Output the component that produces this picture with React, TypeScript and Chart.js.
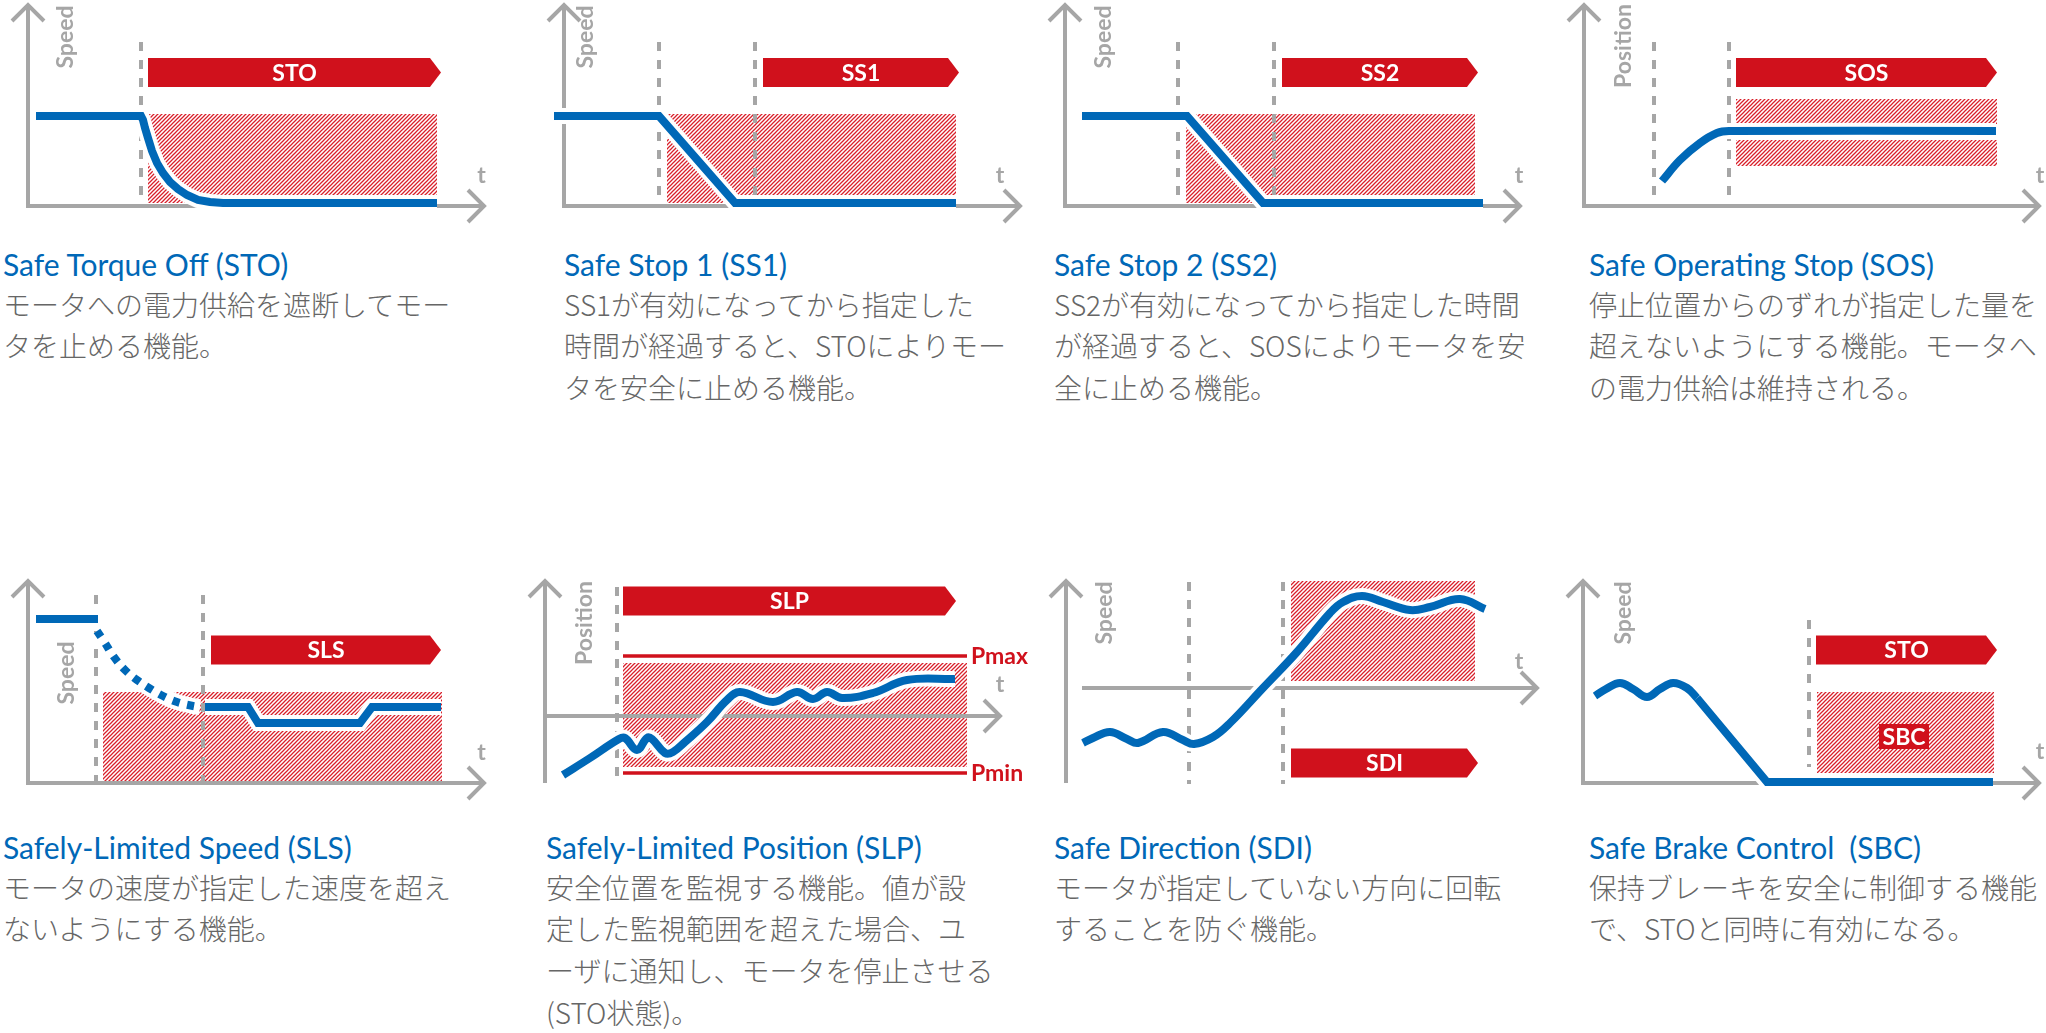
import { useEffect, useRef } from "react";
import { Chart, registerables } from "chart.js";

Chart.register(...registerables);

type Pt = [number, number];
type Band = [number, number, number, number]; // t from, t to, value from, value to

// ---------- Safe Torque Off (STO): the motor coasts down once torque is cut ----------
const stoSpeed: Pt[] = [
  [0.8, 9.0], [11.3, 9.0], [11.5, 8.6], [11.7, 7.8], [12.0, 6.8], [12.4, 5.5],
  [12.9, 4.3], [13.5, 3.3], [14.2, 2.4], [15.0, 1.7], [15.9, 1.1], [17.0, 0.6],
  [18.2, 0.4], [19.5, 0.3], [40.9, 0.3],
];
const stoMarkers = [11.3];
const stoZone: Band[] = [[12.0, 40.9, 0.3, 9.2]];

// ---------- Safe Stop 1 (SS1) ----------
const ss1Speed: Pt[] = [[-1.0, 9.0], [9.5, 9.0], [17.1, 0.3], [39.2, 0.3]];
const ss1Markers = [9.5, 19.1];
const ss1Zone: Band[] = [[10.3, 39.2, 0.3, 9.2]];

// ---------- Safe Stop 2 (SS2) ----------
const ss2Speed: Pt[] = [[1.7, 9.0], [12.2, 9.0], [19.8, 0.3], [41.8, 0.3]];
const ss2Markers = [11.3, 20.9];
const ss2Zone: Band[] = [[12.1, 41.0, 0.3, 9.2]];

// ---------- Safe Operating Stop (SOS) ----------
const sosPosition: Pt[] = [[7.8, 2.5], [9.6, 4.6], [11.6, 6.3], [13.3, 7.3], [14.5, 7.5], [41.2, 7.5]];
const sosMarkers = [7.0, 14.5];
const sosZone: Band[] = [[15.2, 41.3, 8.2, 10.7], [15.2, 41.3, 4.0, 6.6]];

// ---------- Safely-Limited Speed (SLS) ----------
const slsRun: Pt[] = [[0.8, 16.4], [7.0, 16.4]];
const slsDecel: Pt[] = [
  [6.9, 15.2], [7.7, 14.0], [8.6, 12.6], [9.7, 11.3], [10.9, 10.3], [12.1, 9.5],
  [13.5, 8.7], [14.9, 8.1], [16.5, 7.7], [17.2, 7.6],
];
const slsLimited: Pt[] = [[17.7, 7.6], [22.0, 7.6], [23.0, 6.0], [33.2, 6.0], [34.4, 7.6], [41.3, 7.6]];
const slsMarkers = [6.8, 17.5];
const slsZone: Band[] = [[7.5, 41.4, 0.2, 9.1]];

// ---------- Safely-Limited Position (SLP) ----------
const slpPosition: Pt[] = [
  [1.8, -5.9], [4.5, -4.2], [7.4, -2.3], [8.0, -2.2], [9.2, -3.4], [10.2, -2.2],
  [10.7, -2.3], [12.0, -3.7], [12.8, -3.6], [14.0, -2.6], [16.2, -0.6], [18.2, 1.6],
  [19.5, 2.4], [22.8, 1.4], [25.2, 2.4], [26.8, 1.7], [28.2, 2.4], [29.7, 1.8],
  [32.8, 2.3], [36.2, 3.6], [41.0, 3.7],
];
const slpMarkers = [7.2];
const slpZone: Band[] = [[7.8, 42.2, -5.1, 5.3]];
const slpLimitNames = ["Pmax", "Pmin"];
const slpLimitValues = [6.0, -5.7];
const slpLimitSpan: [number, number] = [7.8, 42.2];

// ---------- Safe Direction (SDI) ----------
const sdiSpeed: Pt[] = [
  [1.7, -5.5], [2.7, -5.0], [4.4, -4.4], [6.1, -5.1], [7.2, -5.5], [9.7, -4.4],
  [11.7, -5.2], [12.8, -5.6], [14.7, -4.9], [16.4, -3.5], [19.7, 0.0], [23.1, 3.6],
  [26.4, 7.5], [27.7, 8.6], [29.6, 9.2], [31.7, 8.6], [34.4, 7.8], [36.4, 8.1],
  [39.4, 8.9], [41.9, 7.9],
];
const sdiMarkers = [12.3, 21.7];
const sdiZone: Band[] = [[22.5, 40.9, 0.7, 10.7]];

// ---------- Safe Brake Control (SBC) ----------
const sbcWave: Pt[] = [
  [1.2, 8.7], [2.3, 9.4], [3.7, 10.0], [5.0, 9.4], [6.4, 8.6], [7.7, 9.4],
  [9.0, 10.0], [10.4, 9.5], [11.4, 8.5],
];
const sbcStop: Pt[] = [[11.4, 8.5], [18.4, 0.1], [41.0, 0.1]];
const sbcMarkers = [22.6];
const sbcZone: Band[] = [[23.4, 41.1, 1.0, 9.1]];
const sbcTagLabel = "SBC";
const sbcTagSpan: Band = [29.6, 34.6, 3.4, 5.9];

// ---------- Function banners (one per diagram) ----------
const bannerLabels = ["STO", "SS1", "SS2", "SOS", "SLS", "SLP", "SDI", "STO"];
const bannerFrom = [12.0, 19.9, 21.7, 15.2, 18.3, 7.8, 22.5, 23.3];
const bannerTo = [41.3, 39.5, 41.3, 41.3, 41.3, 41.1, 41.2, 41.4];
const bannerLevel = [13.35, 13.35, 13.35, 13.35, 13.3, 11.5, -7.5, 13.3];

const axisNames = ["Speed", "Speed", "Speed", "Position", "Speed", "Position", "Speed", "Speed"];

const captionTitles = [
  "Safe Torque Off (STO)",
  "Safe Stop 1 (SS1)",
  "Safe Stop 2 (SS2)",
  "Safe Operating Stop (SOS)",
  "Safely-Limited Speed (SLS)",
  "Safely-Limited Position (SLP)",
  "Safe Direction (SDI)",
  "Safe Brake Control\u2002(SBC)",
];
const captionBodies = [
  ["モータへの電力供給を遮断してモー", "タを止める機能。"],
  ["SS1が有効になってから指定した", "時間が経過すると、STOによりモー", "タを安全に止める機能。"],
  ["SS2が有効になってから指定した時間", "が経過すると、SOSによりモータを安", "全に止める機能。"],
  ["停止位置からのずれが指定した量を", "超えないようにする機能。モータへ", "の電力供給は維持される。"],
  ["モータの速度が指定した速度を超え", "ないようにする機能。"],
  ["安全位置を監視する機能。値が設", "定した監視範囲を超えた場合、ユ", "ーザに通知し、モータを停止させる", "(STO状態)。"],
  ["モータが指定していない方向に回転", "することを防ぐ機能。"],
  ["保持ブレーキを安全に制御する機能", "で、STOと同時に有効になる。"],
];

// ---------- styles ----------
const BLUE = "#0068b7";
const RED = "#d0111c";
const HATCH_RED = "#d91f2a";
const AXIS_GRAY = "#a6a6a6";
const TEXT_GRAY = "#666666";
const UNIT = 10; // px per data unit on both axes
const AXIS_W = 4;
const LINE_W = 8;
const HALO_W = 16;
const ARM = 16;
const BANNER_H = 29;
const BANNER_TIP = 11;
const BOLD_FONT = "bold 23px Lato";
const CAP = 16.5;

type Trace = { points: Pt[]; tension?: number; dotted?: boolean };
type Panel = {
  box: { x: number; y: number; w: number; h: number };
  origin: { x: number; y: number };
  yAxis: [number, number];
  xAxis: [number, number];
  joined: boolean;
  markers: number[];
  markerSpan: [number, number];
  zones: Band[];
  traces: Trace[];
  nameAt: Pt;
  tAt: Pt;
  captionX: number;
  row: number;
  extra?: "slp" | "sbc";
};

const panels: Panel[] = [
  {
    box: { x: 0, y: 0, w: 520, h: 232 }, origin: { x: 28, y: 206 },
    yAxis: [0, 20.1], xAxis: [0, 45.6], joined: true,
    markers: stoMarkers, markerSpan: [0, 16.4], zones: stoZone,
    traces: [{ points: stoSpeed }], nameAt: [4.5, 16.9], tAt: [45.35, 2.3], captionX: 3, row: 0,
  },
  {
    box: { x: 520, y: 0, w: 520, h: 232 }, origin: { x: 564, y: 206 },
    yAxis: [0, 20.1], xAxis: [0, 45.6], joined: true,
    markers: ss1Markers, markerSpan: [0, 16.4], zones: ss1Zone,
    traces: [{ points: ss1Speed }], nameAt: [2.9, 16.9], tAt: [43.6, 2.3], captionX: 564, row: 0,
  },
  {
    box: { x: 1030, y: 0, w: 520, h: 232 }, origin: { x: 1065, y: 206 },
    yAxis: [0, 20.1], xAxis: [0, 45.5], joined: true,
    markers: ss2Markers, markerSpan: [0, 16.4], zones: ss2Zone,
    traces: [{ points: ss2Speed }], nameAt: [4.6, 16.9], tAt: [45.4, 2.3], captionX: 1054, row: 0,
  },
  {
    box: { x: 1540, y: 0, w: 506, h: 232 }, origin: { x: 1584, y: 206 },
    yAxis: [0, 20.1], xAxis: [0, 45.5], joined: true,
    markers: sosMarkers, markerSpan: [0, 16.4], zones: sosZone,
    traces: [{ points: sosPosition, tension: 0.4 }], nameAt: [4.7, 16.0], tAt: [45.6, 2.3], captionX: 1589, row: 0,
  },
  {
    box: { x: 0, y: 570, w: 520, h: 232 }, origin: { x: 28, y: 783 },
    yAxis: [0, 20.2], xAxis: [0, 45.6], joined: true,
    markers: slsMarkers, markerSpan: [0, 18.8], zones: slsZone,
    traces: [{ points: slsRun }, { points: slsDecel, tension: 0.4, dotted: true }, { points: slsLimited }],
    nameAt: [4.6, 11.0], tAt: [45.35, 2.3], captionX: 3, row: 1,
  },
  {
    box: { x: 520, y: 570, w: 520, h: 232 }, origin: { x: 545, y: 716 },
    yAxis: [-6.7, 13.5], xAxis: [0, 45.5], joined: false,
    markers: slpMarkers, markerSpan: [-6.9, 12.9], zones: slpZone,
    traces: [{ points: slpPosition, tension: 0.4 }], nameAt: [4.7, 9.3], tAt: [45.5, 2.4], captionX: 546, row: 1,
    extra: "slp",
  },
  {
    box: { x: 1030, y: 570, w: 520, h: 232 }, origin: { x: 1066, y: 688 },
    yAxis: [-9.5, 10.7], xAxis: [1.6, 47.1], joined: false,
    markers: sdiMarkers, markerSpan: [-9.6, 10.6], zones: sdiZone,
    traces: [{ points: sdiSpeed, tension: 0.4 }], nameAt: [4.6, 7.5], tAt: [45.3, 1.9], captionX: 1054, row: 1,
  },
  {
    box: { x: 1540, y: 570, w: 506, h: 232 }, origin: { x: 1583, y: 783 },
    yAxis: [0, 20.2], xAxis: [0, 45.6], joined: true,
    markers: sbcMarkers, markerSpan: [1.6, 16.3], zones: sbcZone,
    traces: [{ points: sbcWave, tension: 0.4 }, { points: sbcStop }], nameAt: [4.8, 17.0], tAt: [45.7, 2.4],
    captionX: 1589, row: 1, extra: "sbc",
  },
];

const TITLE_TOP = [249, 831.5];
const BODY_TOP = [283.6, 866.6];

let hatchTile: HTMLCanvasElement | null = null;
function hatchPattern(ctx: CanvasRenderingContext2D): CanvasPattern | string {
  if (!hatchTile) {
    hatchTile = document.createElement("canvas");
    hatchTile.width = 4;
    hatchTile.height = 4;
    const g = hatchTile.getContext("2d")!;
    g.strokeStyle = HATCH_RED;
    g.lineWidth = 1.25;
    g.beginPath();
    g.moveTo(0, 4); g.lineTo(4, 0);
    g.moveTo(-1, 1); g.lineTo(1, -1);
    g.moveTo(3, 5); g.lineTo(5, 3);
    g.stroke();
  }
  return ctx.createPattern(hatchTile, "repeat") || HATCH_RED;
}

function lineSet(points: Pt[], color: string, width: number, order: number, extra: Record<string, unknown> = {}) {
  return {
    data: points.map(([x, y]) => ({ x, y })),
    borderColor: color,
    borderWidth: width,
    order,
    pointRadius: 0,
    pointHoverRadius: 0,
    fill: false,
    tension: 0,
    borderCapStyle: "butt",
    borderJoinStyle: "miter",
    ...extra,
  };
}

function buildDatasets(p: Panel, ctx: CanvasRenderingContext2D) {
  const sets: any[] = [];
  const pattern = hatchPattern(ctx);
  for (const [t0, t1, v0, v1] of p.zones) {
    sets.push({
      data: [{ x: t0, y: v1 }, { x: t1, y: v1 }],
      fill: { value: v0 },
      backgroundColor: pattern,
      borderColor: "rgba(0,0,0,0)",
      borderWidth: 0,
      pointRadius: 0,
      order: 100,
    });
  }
  const [vLow, vTip] = p.yAxis;
  const [tLow, tTip] = p.xAxis;
  if (p.joined) {
    sets.push(lineSet([[0, vTip], [0, 0], [tTip, 0]], AXIS_GRAY, AXIS_W, 90));
  } else {
    sets.push(lineSet([[0, vLow], [0, vTip]], AXIS_GRAY, AXIS_W, 90));
    sets.push(lineSet([[tLow, 0], [tTip, 0]], AXIS_GRAY, AXIS_W, 90));
  }
  if (p.extra === "slp") {
    for (const v of slpLimitValues) {
      sets.push(lineSet([[slpLimitSpan[0], v], [slpLimitSpan[1], v]], RED, 3.5, 85));
    }
  }
  for (const t of p.markers) {
    sets.push(lineSet([[t, p.markerSpan[1]], [t, p.markerSpan[0]]], AXIS_GRAY, AXIS_W, 80, { borderDash: [9, 9] }));
  }
  for (const tr of p.traces) {
    sets.push(lineSet(tr.points, "#ffffff", HALO_W, 50, { tension: tr.tension ?? 0 }));
    sets.push(
      lineSet(tr.points, BLUE, LINE_W, 10, {
        tension: tr.tension ?? 0,
        borderDash: tr.dotted ? [7, 8] : [],
      })
    );
  }
  return sets;
}

function decorations(p: Panel, idx: number) {
  return {
    id: "decorations",
    afterDatasetsDraw(chart: Chart) {
      const ctx = chart.ctx;
      const X = (t: number) => chart.scales.x.getPixelForValue(t);
      const Y = (v: number) => chart.scales.y.getPixelForValue(v);
      ctx.save();

      // arrow heads of both axes
      ctx.strokeStyle = AXIS_GRAY;
      ctx.lineWidth = AXIS_W;
      ctx.lineJoin = "miter";
      ctx.lineCap = "butt";
      const ux = X(0), uy = Y(p.yAxis[1]);
      ctx.beginPath();
      ctx.moveTo(ux - ARM, uy + ARM); ctx.lineTo(ux, uy); ctx.lineTo(ux + ARM, uy + ARM);
      ctx.stroke();
      const rx = X(p.xAxis[1]), ry = Y(0);
      ctx.beginPath();
      ctx.moveTo(rx - ARM, ry - ARM); ctx.lineTo(rx, ry); ctx.lineTo(rx - ARM, ry + ARM);
      ctx.stroke();

      // axis names
      ctx.fillStyle = AXIS_GRAY;
      ctx.font = BOLD_FONT;
      ctx.textAlign = "center";
      ctx.textBaseline = "alphabetic";
      ctx.save();
      ctx.translate(X(p.nameAt[0]), Y(p.nameAt[1]));
      ctx.rotate(-Math.PI / 2);
      ctx.fillText(axisNames[idx], 0, 0);
      ctx.restore();
      ctx.fillText("t", X(p.tAt[0]), Y(p.tAt[1]));

      // function banner
      const x0 = X(bannerFrom[idx]);
      const x1 = X(bannerTo[idx]);
      const yc = Y(bannerLevel[idx]);
      ctx.fillStyle = RED;
      ctx.beginPath();
      ctx.moveTo(x0, yc - BANNER_H / 2);
      ctx.lineTo(x1 - BANNER_TIP, yc - BANNER_H / 2);
      ctx.lineTo(x1, yc);
      ctx.lineTo(x1 - BANNER_TIP, yc + BANNER_H / 2);
      ctx.lineTo(x0, yc + BANNER_H / 2);
      ctx.closePath();
      ctx.fill();
      ctx.fillStyle = "#ffffff";
      ctx.fillText(bannerLabels[idx], (x0 + x1) / 2, yc + CAP / 2);

      if (p.extra === "slp") {
        ctx.fillStyle = RED;
        ctx.textAlign = "left";
        slpLimitNames.forEach((name, k) => {
          ctx.fillText(name, X(slpLimitSpan[1]) + 4, Y(slpLimitValues[k]) + CAP / 2);
        });
      }
      if (p.extra === "sbc") {
        const [t0, t1, v0, v1] = sbcTagSpan;
        ctx.fillStyle = RED;
        ctx.fillRect(X(t0), Y(v1), X(t1) - X(t0), Y(v0) - Y(v1));
        ctx.fillStyle = "#ffffff";
        ctx.textAlign = "center";
        ctx.fillText(sbcTagLabel, (X(t0) + X(t1)) / 2, (Y(v0) + Y(v1)) / 2 + CAP / 2);
      }
      ctx.restore();
    },
  };
}

function PanelChart({ panel, index }: { panel: Panel; index: number }) {
  const ref = useRef<HTMLCanvasElement>(null);
  useEffect(() => {
    const canvas = ref.current;
    if (!canvas) return;
    const ctx = canvas.getContext("2d")!;
    const { box, origin } = panel;
    const chart = new Chart(canvas, {
      type: "line",
      data: { datasets: buildDatasets(panel, ctx) },
      options: {
        animation: false,
        responsive: false,
        maintainAspectRatio: false,
        devicePixelRatio: 1,
        events: [],
        layout: { padding: 0 },
        plugins: {
          legend: { display: false },
          tooltip: { enabled: false },
          title: { display: false },
        },
        scales: {
          x: {
            type: "linear",
            display: false,
            bounds: "data",
            min: (box.x - origin.x) / UNIT,
            max: (box.x + box.w - origin.x) / UNIT,
          },
          y: {
            type: "linear",
            display: false,
            bounds: "data",
            min: (origin.y - (box.y + box.h)) / UNIT,
            max: (origin.y - box.y) / UNIT,
          },
        },
      } as any,
      plugins: [decorations(panel, index)],
    });
    return () => chart.destroy();
  }, [panel, index]);
  const { box } = panel;
  return (
    <canvas
      ref={ref}
      width={box.w}
      height={box.h}
      style={{ position: "absolute", left: box.x, top: box.y, width: box.w, height: box.h }}
    />
  );
}

function Caption({ panel, index }: { panel: Panel; index: number }) {
  return (
    <>
      <div
        style={{
          position: "absolute",
          left: panel.captionX,
          top: TITLE_TOP[panel.row],
          fontFamily: "Lato, sans-serif",
          fontSize: 30,
          lineHeight: "30px",
          color: BLUE,
          whiteSpace: "nowrap",
        }}
      >
        {captionTitles[index]}
      </div>
      <div
        style={{
          position: "absolute",
          left: panel.captionX,
          top: BODY_TOP[panel.row],
          fontFamily: "'Noto Sans CJK JP', sans-serif",
          fontWeight: 300,
          fontSize: 28,
          lineHeight: "41.7px",
          color: TEXT_GRAY,
          whiteSpace: "nowrap",
        }}
      >
        {captionBodies[index].map((line, k) => (
          <div key={k}>{line}</div>
        ))}
      </div>
    </>
  );
}

export default function App() {
  return (
    <div
      style={{
        position: "absolute",
        left: 0,
        top: 0,
        width: 2046,
        height: 1033,
        overflow: "hidden",
        background: "#ffffff",
      }}
    >
      {panels.map((p, i) => (
        <PanelChart key={`chart-${i}`} panel={p} index={i} />
      ))}
      {panels.map((p, i) => (
        <Caption key={`caption-${i}`} panel={p} index={i} />
      ))}
    </div>
  );
}
